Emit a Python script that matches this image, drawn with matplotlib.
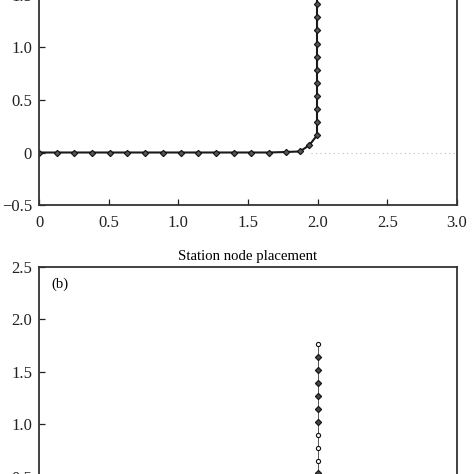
import numpy as np
import matplotlib.pyplot as plt
from matplotlib.ticker import FuncFormatter

plt.rcParams['font.family'] = ['Liberation Serif', 'DejaVu Serif']
plt.rcParams['axes.unicode_minus'] = True

# (a) node curve: horizontal run then vertical run at x = 2.0
top_x = [0.0, 0.127, 0.254, 0.381, 0.508, 0.635, 0.762, 0.889, 1.016, 1.143,
         1.27, 1.397, 1.524, 1.651, 1.776, 1.873, 1.94,
         1.995, 1.995, 1.995, 1.995, 1.995, 1.995, 1.995, 1.995, 1.995, 1.995,
         1.995, 1.995, 1.995, 1.995]
top_y = [0, 0, 0, 0, 0, 0, 0, 0, 0, 0,
         0, 0, 0, 0, 0.005, 0.01, 0.07,
         0.163, 0.288, 0.413, 0.535, 0.66, 0.785, 0.91, 1.038, 1.163, 1.29,
         1.415, 1.54, 1.665, 1.79]
# faint dotted trace beyond the corner
tail_x = [1.95, 3.0]
tail_y = [0, 0]

# (b) station node placement
st_x = [2.0] * 14
st_y = [1.767, 1.64, 1.517, 1.392, 1.271, 1.148, 1.024, 0.897, 0.773, 0.652,
        0.535, 0.41, 0.29, 0.16]
st_filled = [False, True, True, True, True, True, True, False, False, False,
             True, True, True, True]

xticks = [0, 0.5, 1.0, 1.5, 2.0, 2.5, 3.0]
top_yticks = [-0.5, 0, 0.5, 1.0, 1.5]
bottom_yticks = [0.5, 1.0, 1.5, 2.0, 2.5]


def fmt(v, pos):
    if abs(v) < 1e-9:
        return '0'
    return ('%.1f' % v).replace('-', '\u2212')


def style_axes(ax, yticks):
    ax.set_xlim(0, 3.0)
    ax.set_ylim(-0.5, 2.5)
    ax.set_xticks(xticks)
    ax.set_yticks(yticks)
    ax.xaxis.set_major_formatter(FuncFormatter(fmt))
    ax.yaxis.set_major_formatter(FuncFormatter(fmt))
    ax.tick_params(direction='in', length=4, width=0.9, labelsize=12,
                   colors='#222222')
    ax.tick_params(axis='y', pad=5)
    ax.tick_params(axis='x', pad=7)
    for s in ax.spines.values():
        s.set_linewidth(1.3)
        s.set_color('#333333')


fig = plt.figure(figsize=(4.74, 4.74), dpi=100)

ax1 = fig.add_axes([0.0823, 0.5675, 0.8819, 0.6646])
style_axes(ax1, top_yticks)
ax1.plot(tail_x, tail_y, color='#bbbbbb', lw=0.8, ls=(0, (1, 3)))
ax1.plot(top_x, top_y, color='#1a1a1a', lw=1.5, marker='D', markersize=3.2,
         markerfacecolor='#555555', markeredgecolor='#111111', markeredgewidth=0.8)

ax2 = fig.add_axes([0.0823, -0.2278, 0.8819, 0.6646])
style_axes(ax2, bottom_yticks)
ax2.tick_params(axis='x', labelbottom=False)
ax2.set_title('Station node placement', fontsize=10.6, pad=5)
ax2.text(0.03, 0.968, '(b)', transform=ax2.transAxes, fontsize=10.5,
         va='top', ha='left')
ax2.plot(st_x, st_y, color='#555555', lw=0.7)
for x, y, f in zip(st_x, st_y, st_filled):
    ax2.plot(x, y, marker='D' if f else 'o', markersize=3.2 if f else 3.0,
             markerfacecolor='#444444' if f else 'white',
             markeredgecolor='#111111', markeredgewidth=0.8)

plt.savefig('out.png', dpi=100)
plt.close()
